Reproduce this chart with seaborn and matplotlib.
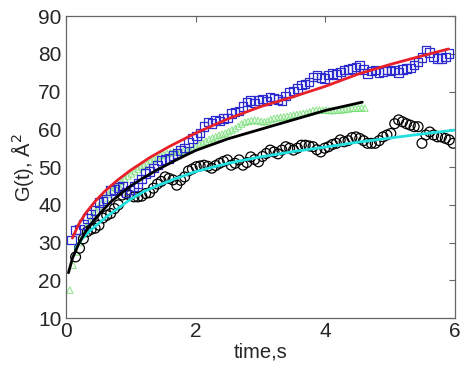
import numpy as np
import pandas as pd
import matplotlib
matplotlib.use("Agg")
import matplotlib.pyplot as plt
import seaborn as sns

# ---- data ----
blue_t0, blue_dt = 0.09, 0.06
g_blue = [30.7, 33.3, 33.5, 34.8, 36.4, 37.6, 38.5, 40.6, 41.0, 41.5,
          43.8, 44.0, 44.6, 44.8, 43.2, 43.9, 44.8, 45.7, 46.8, 48.3,
          48.9, 49.7, 50.6, 51.7, 52.0, 52.3, 53.0, 53.6, 54.4, 55.0,
          56.5, 57.5, 58.2, 59.0, 60.8, 62.0, 61.5, 62.5, 62.2, 62.9,
          63.0, 64.2, 64.6, 64.8, 66.0, 67.3, 67.7, 67.0, 67.7, 68.0,
          67.5, 68.6, 68.2, 67.9, 67.5, 68.8, 69.8, 70.2, 70.8, 71.7,
          72.0, 72.5, 73.9, 74.4, 73.8, 73.5, 74.4, 74.8, 74.5, 75.2,
          75.7, 75.8, 76.1, 76.5, 77.0, 75.8, 74.8, 75.5, 75.7, 75.0,
          75.3, 75.7, 75.4, 75.7, 75.0, 75.8, 76.1, 76.3, 77.0, 77.8,
          79.0, 81.0, 80.3, 79.2, 78.8, 78.8, 79.2, 80.1]

black_t0, black_dt = 0.15, 0.06
g_black = [26.2, 28.5, 31.0, 32.9, 33.5, 33.8, 34.6, 36.5, 37.2, 37.7,
           39.0, 40.0, 42.6, 43.0, 42.5, 42.1, 42.1, 42.3, 43.0, 43.2,
           44.4, 45.5, 46.2, 47.4, 47.0, 46.6, 45.2, 46.5, 47.4, 49.0,
           49.5, 50.1, 50.3, 50.5, 50.2, 49.7, 50.4, 51.0, 51.5, 51.9,
           50.5, 51.0, 51.9, 50.5, 51.2, 52.7, 52.0, 51.4, 52.8, 53.6,
           54.5, 54.0, 53.5, 54.5, 55.4, 55.0, 54.5, 55.0, 55.8, 55.8,
           55.6, 55.4, 54.6, 54.0, 55.0, 55.4, 56.0, 56.3, 57.2, 56.7,
           57.0, 57.8, 58.0, 57.6, 57.0, 56.3, 56.3, 56.3, 57.0, 58.0,
           58.5, 58.9, 61.5, 62.5, 62.0, 61.5, 61.1, 60.7, 60.7, 56.3,
           58.5, 59.3, 58.5, 58.0, 58.0, 57.6, 57.2, 56.3]

green_t0, green_dt = 0.06, 0.05
g_green = [17.4, 24.0, 27.5, 30.0, 32.2, 34.0, 35.6, 37.0, 38.3, 39.6,
           40.7, 41.8, 42.8, 43.7, 44.6, 45.4, 46.2, 46.9, 47.6, 48.2,
           48.8, 49.4, 50.0, 50.5, 51.0, 51.6, 52.0, 52.5, 53.0, 53.3,
           53.6, 53.8, 54.0, 54.0, 54.1, 54.2, 54.4, 54.6, 55.0, 55.5,
           56.0, 56.4, 56.8, 57.3, 57.7, 58.0, 58.4, 58.7, 59.0, 59.4,
           59.8, 60.2, 60.8, 61.4, 61.9, 62.1, 62.3, 62.4, 62.3, 62.1,
           62.0, 62.2, 62.6, 62.9, 63.0, 63.2, 63.3, 63.4, 63.6, 63.8,
           63.9, 64.0, 64.2, 64.3, 64.6, 65.0, 65.1, 65.1, 65.1, 65.1,
           65.0, 65.0, 65.1, 65.1, 65.2, 65.3, 65.4, 65.6, 65.6, 65.6,
           65.7, 65.6]

red_t = [0.1, 0.2, 0.3, 0.45, 0.6, 0.8, 1.0, 1.3, 1.6, 2.0, 2.5, 3.0, 3.5, 4.0, 4.5, 5.0, 5.5, 5.9]
red_g = [31.2, 34.9, 37.7, 40.9, 43.6, 46.6, 49.2, 52.6, 55.5, 59.0, 62.8, 66.0, 68.6, 71.4, 74.6, 77.2, 79.5, 81.3]

blackfit_t = [0.04, 0.1, 0.2, 0.3, 0.4, 0.55, 0.7, 0.85, 1.0, 1.2, 1.4, 1.7, 2.0, 2.5, 3.0, 3.5, 4.0, 4.57]
blackfit_g = [22.0, 25.8, 29.8, 32.8, 35.2, 38.2, 40.9, 43.0, 45.0, 47.2, 49.2, 51.9, 54.4, 57.5, 60.0, 62.5, 65.0, 67.2]

cyan_t = [0.15, 0.25, 0.35, 0.45, 0.6, 0.8, 1.0, 1.2, 1.4, 1.7, 2.0, 2.5, 3.0, 3.5, 4.0, 4.5, 5.0, 5.5, 6.0]
cyan_g = [28.5, 31.0, 32.8, 34.3, 36.5, 39.0, 41.5, 43.5, 45.0, 47.0, 48.8, 51.0, 52.7, 54.1, 55.3, 56.6, 57.7, 58.8, 59.8]

xticks = [0, 2, 4, 6]
yticks = [10, 20, 30, 40, 50, 60, 70, 80, 90]

# ---- build tables ----
def series(t0, dt, vals):
    return pd.DataFrame({"t": t0 + dt * np.arange(len(vals)), "G": vals})

df_blue = series(blue_t0, blue_dt, g_blue)
df_black = series(black_t0, black_dt, g_black)
df_green = series(green_t0, green_dt, g_green)
df_red = pd.DataFrame({"t": red_t, "G": red_g})
df_bfit = pd.DataFrame({"t": blackfit_t, "G": blackfit_g})
df_cyan = pd.DataFrame({"t": cyan_t, "G": cyan_g})

sns.set_style("white")
plt.rcParams["font.family"] = ["Liberation Sans", "DejaVu Sans"]

fig = plt.figure(figsize=(4.74, 3.66), dpi=100)
ax = fig.add_axes([0.139, 0.131, 0.821, 0.825])

sns.scatterplot(data=df_green, x="t", y="G", ax=ax, marker="^", s=22,
                facecolors="none", edgecolor="#70dd70", linewidth=0.8, alpha=0.75, zorder=2)
sns.scatterplot(data=df_black, x="t", y="G", ax=ax, marker="o", s=50,
                facecolors="none", edgecolor="black", linewidth=0.9, zorder=3)
sns.scatterplot(data=df_blue, x="t", y="G", ax=ax, marker="s", s=38,
                facecolors="none", edgecolor="#2b2bd0", linewidth=0.9, zorder=3)

sns.lineplot(data=df_red, x="t", y="G", ax=ax, color="#e8202a", linewidth=2.0, zorder=4)
sns.lineplot(data=df_cyan, x="t", y="G", ax=ax, color="#22e0e0", linewidth=2.0, zorder=4)
sns.lineplot(data=df_bfit, x="t", y="G", ax=ax, color="black", linewidth=2.0, zorder=5)

ax.set_xlim(0, 6)
ax.set_ylim(10, 90)
ax.set_xticks(xticks)
ax.set_yticks(yticks)
ax.tick_params(direction="in", length=4, width=0.8, color="#666666",
               labelsize=15, top=True, right=True, pad=3)
for sp in ax.spines.values():
    sp.set_color("#666666")
    sp.set_linewidth(0.9)
ax.set_xlabel("time,s", fontsize=14.5, labelpad=1)
ax.set_ylabel("G(t), Å$^2$", fontsize=14.5, labelpad=2)

fig.savefig("out.png", dpi=100)
